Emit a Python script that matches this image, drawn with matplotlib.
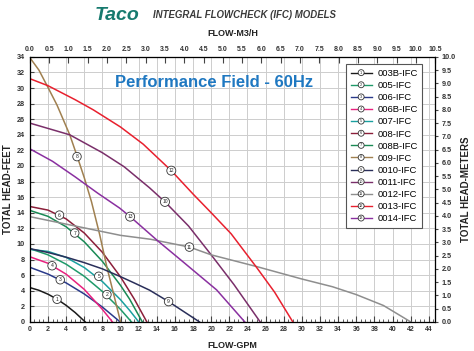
import matplotlib
matplotlib.use("Agg")
import matplotlib.pyplot as plt
from matplotlib.lines import Line2D
from matplotlib.patches import Circle
from matplotlib.text import Text
from matplotlib.legend_handler import HandlerBase
from matplotlib.ticker import MultipleLocator, FormatStrFormatter

plt.rcParams['font.family'] = ['Liberation Sans', 'DejaVu Sans']

# pump curves: flow (GPM) / head (ft)
models = ['003B-IFC', '005-IFC', '006-IFC', '006B-IFC', '007-IFC', '008-IFC', '008B-IFC',
          '009-IFC', '0010-IFC', '0011-IFC', '0012-IFC', '0013-IFC', '0014-IFC']
colors = ['#1a1a1a', '#1f9a6a', '#2a3a8a', '#e8217f', '#1aa0a0', '#8b1f3a', '#1a8a55',
          '#a08050', '#2a2f5a', '#7a2f6a', '#8e8e8e', '#e8202e', '#8a30a0']

q_003b = [0, 1, 2, 3, 4, 5, 6.1]
h_003b = [4.4, 4.05, 3.55, 2.91, 2.12, 1.19, 0]
q_005 = [0, 2, 4, 6, 8, 10, 11.2]
h_005 = [9.4, 8.6, 7.4, 5.85, 3.9, 1.6, 0]
q_006 = [0, 2, 4, 6, 8, 9.95]
h_006 = [7.0, 6.13, 5.0, 3.58, 1.9, 0]
q_006b = [0, 2, 4, 6, 8, 9.1]
h_006b = [8.35, 7.52, 6.12, 4.17, 1.6, 0]
q_007 = [0, 2, 4, 6, 8, 10, 11, 12]
h_007 = [9.3, 9.04, 8.27, 6.97, 5.17, 2.84, 1.48, 0]
q_008 = [0, 2, 4, 6, 8, 10, 11.5, 12.9]
h_008 = [14.8, 14.34, 13.21, 11.4, 8.92, 5.77, 2.96, 0]
q_008b = [0, 2, 4, 6, 8, 10, 11, 12.4]
h_008b = [14.3, 13.54, 12.2, 10.27, 7.76, 4.68, 2.92, 0]
q_009 = [0, 1, 1.9, 3, 4.4, 5.2, 6.0, 6.8, 7.7, 8.5, 9.3, 10]
h_009 = [33.9, 32.3, 30.3, 27.8, 24.0, 21.3, 18.5, 15.4, 11.2, 7.0, 3.3, 0]
q_0010 = [0, 2, 4, 6, 8, 10, 11.5, 13.2, 15.3, 17, 18.7]
h_0010 = [9.4, 8.9, 8.3, 7.6, 6.8, 5.8, 5.0, 4.07, 2.6, 1.3, 0]
q_0011 = [0, 4.4, 8, 10.4, 13.2, 14.9, 17.5, 20, 22.5, 25.4]
h_0011 = [25.5, 24.0, 21.7, 19.9, 17.2, 15.4, 12.3, 8.6, 4.8, 0]
q_0012 = [0, 5, 10, 13.3, 17.6, 20, 25, 30, 33.4, 36, 39, 42]
h_0012 = [13.5, 12.3, 11.1, 10.6, 9.6, 8.6, 7.1, 5.5, 4.5, 3.5, 2.1, 0]
q_0013 = [0, 2, 5, 7, 10, 12.5, 15.6, 18, 20, 22.2, 25, 27, 29]
h_0013 = [31.2, 30.3, 28.5, 27.2, 25.0, 22.8, 19.4, 16.4, 14.0, 11.3, 7.0, 3.8, 0]
q_0014 = [0, 2.5, 5, 7.5, 9.9, 11.06, 14.1, 17, 20.6, 23.7]
h_0014 = [22.2, 20.6, 18.6, 16.5, 14.6, 13.5, 10.4, 7.6, 4.1, 0]

flows = [q_003b, q_005, q_006, q_006b, q_007, q_008, q_008b, q_009, q_0010, q_0011, q_0012, q_0013, q_0014]
heads = [h_003b, h_005, h_006, h_006b, h_007, h_008, h_008b, h_009, h_0010, h_0011, h_0012, h_0013, h_0014]

# where the numbered circles sit on each curve
label_q = [3.0, 8.5, 3.35, 2.45, 7.6, 3.27, 4.95, 5.2, 15.3, 14.9, 17.6, 15.6, 11.06]
label_h = [2.9, 3.5, 5.4, 7.2, 5.85, 13.7, 11.4, 21.2, 2.6, 15.4, 9.6, 19.4, 13.5]


class NumHandler(HandlerBase):
    # line with a small numbered circle in the middle
    def create_artists(self, legend, orig_handle, xdescent, ydescent, width, height, fontsize, trans):
        y = height / 2 - ydescent
        cx = width / 2 - xdescent
        ln = Line2D([-xdescent, width - xdescent], [y, y], color=orig_handle.get_color(),
                    lw=1.0, transform=trans)
        c = Circle((cx, y), radius=height * 0.45, fc='white', ec='#333333', lw=0.6, transform=trans)
        t = Text(cx, y, orig_handle.get_gid(), fontsize=2.8, ha='center', va='center',
                 color='#222222', transform=trans)
        return [ln, c, t]


fig = plt.figure(figsize=(4.74, 3.51), dpi=100)
ax = fig.add_axes([0.063, 0.083, 0.855, 0.755])

handles = []
for i, name in enumerate(models):
    line, = ax.plot(flows[i], heads[i], color=colors[i], lw=1.1, label=name, zorder=3)
    line.set_gid(str(i + 1))
    handles.append(line)
    ax.text(label_q[i], label_h[i], str(i + 1), fontsize=3.6, ha='center', va='center',
            color='#222222', zorder=5,
            bbox=dict(boxstyle='circle,pad=0.35', fc='white', ec='#333333', lw=0.6))

ax.set_xlim(0, 44.7)
ax.set_ylim(0, 34)
ax.xaxis.set_major_locator(MultipleLocator(2))
ax.xaxis.set_minor_locator(MultipleLocator(0.5))
ax.yaxis.set_major_locator(MultipleLocator(2))
ax.grid(True, which='major', color='#cdcdcd', lw=0.7, zorder=0)
ax.tick_params(axis='x', which='both', direction='in', labelsize=5, pad=3, colors='#444444')
ax.tick_params(axis='x', which='major', length=4)
ax.tick_params(axis='x', which='minor', length=2.5)
ax.tick_params(axis='y', direction='in', length=3, labelsize=5.2, colors='#444444')
for lab in ax.get_xticklabels() + ax.get_yticklabels():
    lab.set_fontweight('bold')
    lab.set_color('#333333')
for s in ax.spines.values():
    s.set_color('#666666')
    s.set_linewidth(0.8)

ax.set_xlabel('FLOW-GPM', fontsize=6.5, fontweight='bold', color='#222222', labelpad=6)
ax.set_ylabel('TOTAL HEAD-FEET', fontsize=7, fontweight='bold', color='#222222', labelpad=3)

# metric axes
axt = ax.twiny()
axt.set_xlim(0, 10.5)
axt.xaxis.set_major_locator(MultipleLocator(0.5))
axt.xaxis.set_major_formatter(FormatStrFormatter('%.1f'))
axt.tick_params(axis='x', direction='in', length=4, labelsize=5, pad=3, colors='#444444')
for lab in axt.get_xticklabels():
    lab.set_fontweight('bold')
    lab.set_color('#333333')
axt.set_xlabel('FLOW-M3/H', fontsize=6.5, fontweight='bold', color='#222222', labelpad=7)

axr = ax.twinx()
axr.set_ylim(0, 10)
axr.yaxis.set_major_locator(MultipleLocator(0.5))
axr.yaxis.set_major_formatter(FormatStrFormatter('%.1f'))
axr.tick_params(axis='y', direction='out', length=2.5, pad=2, labelsize=5.2, colors='#444444')
for lab in axr.get_yticklabels():
    lab.set_fontweight('bold')
    lab.set_color('#333333')
axr.set_ylabel('TOTAL HEAD-METERS', fontsize=7, fontweight='bold', color='#222222', labelpad=4)

leg = ax.legend(handles=handles, handler_map={h: NumHandler() for h in handles},
                loc='upper right', bbox_to_anchor=(0.98, 0.99), fontsize=6.8,
                labelspacing=0.33, handlelength=2.2, handletextpad=0.6,
                borderpad=0.5, fancybox=False, framealpha=1, edgecolor='#555555')
leg.get_frame().set_linewidth(0.8)
leg.set_zorder(10)

ax.text(0.21, 0.905, 'Performance Field - 60Hz', transform=ax.transAxes,
        fontsize=12, fontweight='bold', color='#1f78c1', va='center', ha='left')

fig.text(0.20, 0.957, 'Taco', fontsize=14, fontweight='bold', style='italic',
         color='#177a6e', va='center', ha='left')
fig.text(0.322, 0.957, 'INTEGRAL FLOWCHECK (IFC) MODELS', fontsize=6.9,
         fontweight='bold', style='italic', color='#3a3a3a', va='center', ha='left')

fig.savefig('out.png', dpi=100)
